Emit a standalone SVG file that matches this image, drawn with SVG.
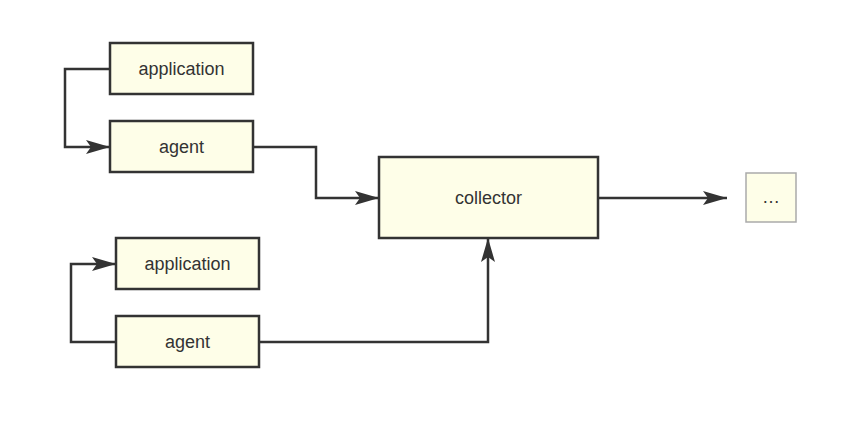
<svg xmlns="http://www.w3.org/2000/svg" width="846" height="425" viewBox="0 0 846 425">
<defs>
<marker id="ah" markerWidth="24" markerHeight="14" refX="24" refY="7" orient="auto" markerUnits="userSpaceOnUse"><path d="M0,0 L24,7 L0,14 L5,7 Z" fill="#333"/></marker>
<style>
.n{fill:#fefee8;stroke:#333;stroke-width:2.5}
.t{font-family:"Liberation Sans",Arial,sans-serif;font-size:18px;fill:#333;text-anchor:middle;dominant-baseline:central}
.c{fill:none;stroke:#333;stroke-width:2.5;marker-end:url(#ah)}
</style>
</defs>
<rect width="846" height="425" fill="#fff"/>
<g id="connectors">
<path class="c" d="M110,69 H65 V147 H110"/>
<path class="c" d="M253,147 H316 V198 H379"/>
<path class="c" d="M116,342 H71 V264 H116"/>
<path class="c" d="M259,342 H488 V238"/>
<path class="c" d="M598,198 H727"/>
</g>
<g id="app1"><rect class="n" x="110" y="43" width="143" height="51"/><text class="t" x="181.5" y="69">application</text></g>
<g id="agent1"><rect class="n" x="110" y="121" width="143" height="51"/><text class="t" x="181.5" y="147">agent</text></g>
<g id="collector"><rect class="n" x="379" y="157" width="219" height="81"/><text class="t" x="488.5" y="198">collector</text></g>
<g id="more"><rect x="746" y="173" width="50" height="49" fill="#fefee8" stroke="#aaa" stroke-width="1.5"/><text class="t" x="771" y="197" font-size="14">…</text></g>
<g id="app2"><rect class="n" x="116" y="238" width="143" height="51"/><text class="t" x="187.5" y="264">application</text></g>
<g id="agent2"><rect class="n" x="116" y="316" width="143" height="51"/><text class="t" x="187.5" y="342">agent</text></g>
</svg>
